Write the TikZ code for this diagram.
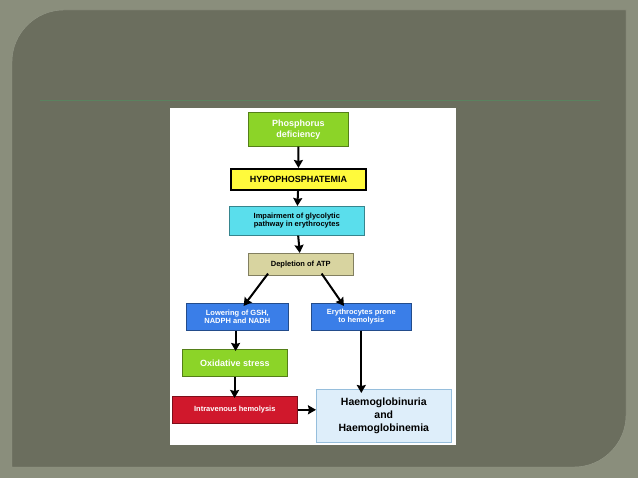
\documentclass[tikz,border=0pt]{standalone}
\usepackage{fontspec}
\setmainfont{Liberation Sans}
\usetikzlibrary{arrows.meta}
\definecolor{outer}{RGB}{138,142,124}
\definecolor{panel}{RGB}{107,110,94}
\definecolor{panelb}{RGB}{150,154,138}
\definecolor{rule}{RGB}{90,130,95}
\definecolor{gr}{RGB}{140,212,40}
\definecolor{ye}{RGB}{255,250,60}
\definecolor{cy}{RGB}{90,222,236}
\definecolor{kh}{RGB}{216,212,160}
\definecolor{bl}{RGB}{58,126,232}
\definecolor{rd}{RGB}{208,24,44}
\definecolor{lb}{RGB}{222,238,250}
\definecolor{lbd}{RGB}{150,190,220}
\begin{document}
\begin{tikzpicture}[x=1pt,y=-1pt,
 box/.style={draw=#1!60!black,line width=0.6pt,inner sep=0pt,font=\bfseries\fontsize{7.5}{8.5}\selectfont,align=center,anchor=north west},
 arr/.style={line width=2pt,-{Stealth[length=8pt,width=9pt,inset=1pt]}}]
\fill[outer] (0,0) rectangle (638,478);
\useasboundingbox (0,0) rectangle (638,478);
\fill[fill=panel,draw=panelb]
 (12,62) arc[start angle=180,end angle=270,radius=52] -- (626,10) -- (626,415) arc[start angle=0,end angle=90,radius=52] -- (12,467) -- cycle;
\draw[line width=1pt,rule] (40,101) -- (600,101);
\fill[white] (170,108) rectangle (456,445);
\node[box=gr,fill=gr,text=white,minimum width=100,minimum height=34,font=\bfseries\fontsize{9}{11}\selectfont] (p) at (248,112) {Phosphorus\\deficiency};
\node[draw=black,line width=2pt,fill=ye,inner sep=0pt,anchor=north west,minimum width=135,minimum height=21,font=\bfseries\fontsize{9}{10}\selectfont] (h) at (230,168) {HYPOPHOSPHATEMIA};
\node[box=cy,fill=cy,minimum width=135,minimum height=29] (i) at (229,206) {Impairment of glycolytic\\pathway in erythrocytes};
\node[box=kh,fill=kh,minimum width=105,minimum height=22] (d) at (248,253) {Depletion of ATP};
\node[box=bl,fill=bl,text=white,minimum width=102,minimum height=27] (l) at (186,303) {Lowering of GSH,\\NADPH and NADH};
\node[box=bl,fill=bl,text=white,minimum width=100,minimum height=27] (e) at (311,303) {Erythrocytes prone\\to hemolysis};
\node[box=gr,fill=gr,text=white,minimum width=105,minimum height=27,font=\bfseries\fontsize{9}{10}\selectfont] (o) at (182,349) {Oxidative stress};
\node[box=rd,fill=rd,text=white,minimum width=125,minimum height=27] (iv) at (172,396) {Intravenous hemolysis};
\node[box=lb,fill=lb,draw=lbd,minimum width=135,minimum height=53,font=\bfseries\fontsize{10.5}{13}\selectfont] (hb) at (316,389) {Haemoglobinuria\\and\\Haemoglobinemia};
\draw[arr] (p) -- (h);
\draw[arr] (h) -- (i);
\draw[arr] (i) -- (d);
\draw[arr] ([xshift=20pt,yshift=2pt]d.south west) -- ([xshift=-45pt,yshift=-3pt]l.north east);
\draw[arr] ([xshift=-32pt,yshift=2pt]d.south east) -- ([xshift=33pt,yshift=-3pt]e.north west);
\draw[arr] ([xshift=-53pt]l.south east) -- ([xshift=-53pt,yshift=-2pt]l.south east|-o.north);
\draw[arr] ([xshift=-53pt]o.south east) -- ([xshift=-53pt,yshift=-2pt]o.south east|-iv.north);
\draw[arr] (e.south) -- ([yshift=-4pt]e.south|-hb.north);
\draw[arr] (iv.east) -- (hb.west|-iv.east);
\end{tikzpicture}
\end{document}
